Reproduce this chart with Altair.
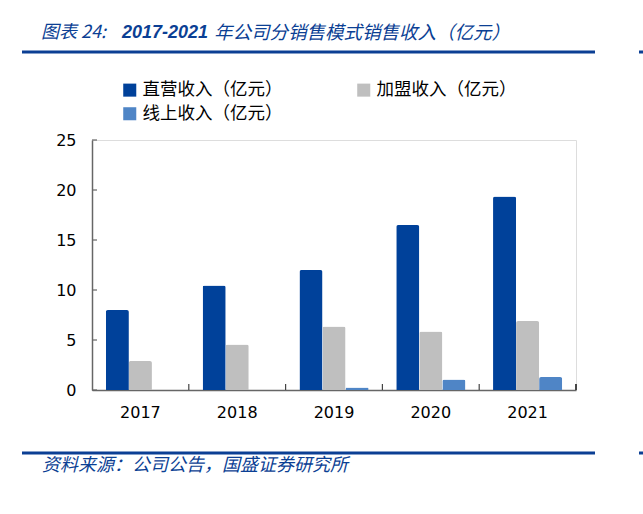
import altair as alt
import pandas as pd

years = ["2017", "2018", "2019", "2020", "2021"]
series = ["直营收入（亿元）", "加盟收入（亿元）", "线上收入（亿元）"]
direct = [8.0, 10.45, 12.0, 16.5, 19.35]
franchise = [2.9, 4.55, 6.35, 5.85, 6.9]
online = [0.0, 0.0, 0.25, 1.05, 1.3]
colors = ["#00419A", "#BFBFBF", "#4F85C6"]
y_ticks = [0, 5, 10, 15, 20, 25]

rows = []
for i, y in enumerate(years):
    for s, vals in zip(series, [direct, franchise, online]):
        rows.append({"year": y, "series": s, "value": vals[i]})
df = pd.DataFrame(rows)

# legend is filled column by column: order so rows read direct, franchise / online
legend_order = [series[0], series[2], series[1]]
legend_colors = [colors[0], colors[2], colors[1]]

W, H = 484, 250
CJK = "Noto Sans CJK SC"
NUM = "DejaVu Sans"
BLUE = "#0B3F94"

bars = alt.Chart(df).mark_bar(cornerRadiusTopLeft=2, cornerRadiusTopRight=2).encode(
    x=alt.X("year:N", sort=years, title=None,
            scale=alt.Scale(paddingInner=0, paddingOuter=0),
            axis=alt.Axis(labelAngle=0, labelFont=NUM, labelFontSize=16, labelColor="#000000",
                          labelPadding=14, ticks=False, domainColor="#666666", domainWidth=1.5)),
    xOffset=alt.XOffset("series:N", sort=series,
                        scale=alt.Scale(paddingInner=0, paddingOuter=0.6)),
    y=alt.Y("value:Q", title=None,
            scale=alt.Scale(domain=[0, 25], nice=False),
            axis=alt.Axis(values=y_ticks, grid=False, ticks=False, labelFont=NUM, labelFontSize=16,
                          labelColor="#000000", labelPadding=16, domainColor="#666666", domainWidth=1.5)),
    color=alt.Color("series:N", scale=alt.Scale(domain=legend_order, range=legend_colors),
                    legend=alt.Legend(title=None, orient="none", legendX=29, legendY=-59,
                                      columns=2, columnPadding=72, rowPadding=5,
                                      symbolType="square", symbolSize=170, symbolStrokeWidth=0,
                                      labelFont=CJK, labelFontSize=17.5, labelColor="#000000",
                                      labelOffset=4, labelLimit=300)),
)

# inward y ticks
ytick_df = pd.DataFrame({"v": y_ticks})
yticks = alt.Chart(ytick_df).mark_rule(color="#666666", strokeWidth=1.2).encode(
    y=alt.Y("v:Q"), x=alt.value(0), x2=alt.value(5))

# inward x ticks at category boundaries
xtick_df = pd.DataFrame({"year": years[1:]})
xticks = alt.Chart(xtick_df).mark_rule(color="#444444", strokeWidth=1.2).encode(
    x=alt.X("year:N", sort=years, bandPosition=0), y=alt.value(H), y2=alt.value(H - 6))
xend = alt.Chart(xtick_df).mark_rule(color="#444444", strokeWidth=1.2).encode(
    x=alt.value(W), y=alt.value(H), y2=alt.value(H - 6))

# decorations: title, separators, source
deco = pd.DataFrame({"k": [0]})
top_line = alt.Chart(deco).mark_rule(color=BLUE, strokeWidth=3).encode(
    x=alt.value(-70), x2=alt.value(503), y=alt.value(-88))
top_stub = alt.Chart(deco).mark_rule(color=BLUE, strokeWidth=3).encode(
    x=alt.value(547), x2=alt.value(560), y=alt.value(-88))
bot_line = alt.Chart(deco).mark_rule(color=BLUE, strokeWidth=3).encode(
    x=alt.value(-70), x2=alt.value(503), y=alt.value(313))
bot_stub = alt.Chart(deco).mark_rule(color=BLUE, strokeWidth=3).encode(
    x=alt.value(547), x2=alt.value(560), y=alt.value(313))
t1 = alt.Chart(deco).mark_text(text="图表 24:", font=CJK, fontSize=18, fontStyle="italic",
                               color=BLUE, align="left", baseline="middle").encode(
    x=alt.value(-51), y=alt.value(-107))
t2 = alt.Chart(deco).mark_text(text="2017-2021", font="Liberation Sans", fontSize=18, fontStyle="italic",
                               fontWeight="bold", color=BLUE, align="left", baseline="middle").encode(
    x=alt.value(30), y=alt.value(-107))
t3 = alt.Chart(deco).mark_text(text="年公司分销售模式销售收入（亿元）", font=CJK, fontSize=18.5,
                               fontStyle="italic", color=BLUE, align="left", baseline="middle").encode(
    x=alt.value(122), y=alt.value(-107))
src = alt.Chart(deco).mark_text(text="资料来源：公司公告，国盛证券研究所", font=CJK, fontSize=18,
                                fontStyle="italic", color=BLUE, align="left", baseline="middle").encode(
    x=alt.value(-50), y=alt.value(326))

chart = alt.layer(bars, yticks, xticks, xend, top_line, top_stub, bot_line, bot_stub,
                  t1, t2, t3, src).properties(
    width=W, height=H,
    autosize=alt.AutoSizeParams(type="none"),
    padding={"left": 92, "top": 140, "right": 67, "bottom": 124},
).configure_view(stroke=None).configure(background="white")

chart.save("out.html", embed_options={"renderer": "svg", "actions": False})
